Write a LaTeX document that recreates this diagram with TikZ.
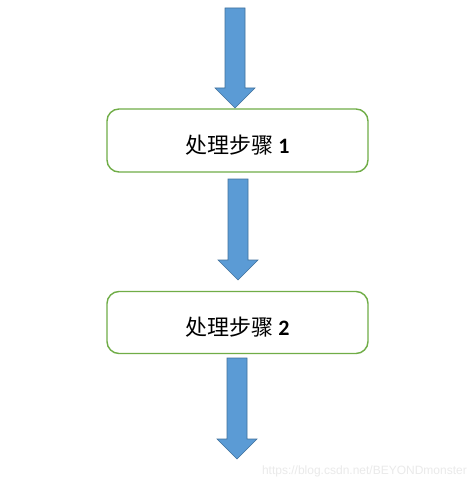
\documentclass[tikz,border=0pt]{standalone}
\usepackage{fontspec}
\setmainfont{Carlito}
\newfontfamily\cjk{Noto Sans CJK SC}
\newfontfamily\wmfont{Liberation Sans}
\usetikzlibrary{calc}
\definecolor{arrowfill}{HTML}{5B9BD5}
\definecolor{arrowline}{HTML}{41719C}
\definecolor{boxline}{HTML}{70AD47}
\definecolor{wmgray}{HTML}{EAEAEA}
\tikzset{
  stepbox/.style={draw=boxline, line width=1.4pt, rounded corners=12pt, fill=white,
    minimum width=261pt, inner sep=0pt},
  steptext/.style={inner sep=0pt, font=\fontsize{22}{25}\selectfont},
  blkarrow/.style={fill=arrowfill, draw=arrowline, line width=0.6pt, line join=miter},
}
\newcommand\blockarrow[2]{%
  \path[blkarrow] ($(#1)+(-10,0)$) -- ($(#2)+(-10,-20)$) -- ($(#2)+(-20,-20)$) -- (#2)
    -- ($(#2)+(20,-20)$) -- ($(#2)+(10,-20)$) -- ($(#1)+(10,0)$) -- cycle;}
\begin{document}
\begin{tikzpicture}[x=1pt,y=-1pt]
\useasboundingbox[fill=white] (0,0) rectangle (474,484);
\node[stepbox, minimum height=63pt] (b1) at (237.5,140.5) {};
\node[stepbox, minimum height=62pt] (b2) at (237.5,322.5) {};
\node[steptext] (t1) at ($(b1.center)+(0,5)$) {{\cjk 处理步骤} \textbf{1}};
\node[steptext] (t2) at ($(b2.center)+(0,5)$) {{\cjk 处理步骤} \textbf{2}};
\coordinate (a1s) at (235,8);
\coordinate (a1e) at (235,108);
\coordinate (a2s) at (238,179);
\coordinate (a2e) at (238,280);
\coordinate (a3s) at (237,358);
\coordinate (a3e) at (237,459);
\blockarrow{a1s}{a1e}
\blockarrow{a2s}{a2e}
\blockarrow{a3s}{a3e}
\node[anchor=south east, inner sep=0pt, text=wmgray, font=\wmfont\fontsize{12}{14}\selectfont] (wm) at (467,477) {https://blog.csdn.net/BEYONDmonster};
\end{tikzpicture}
\end{document}
